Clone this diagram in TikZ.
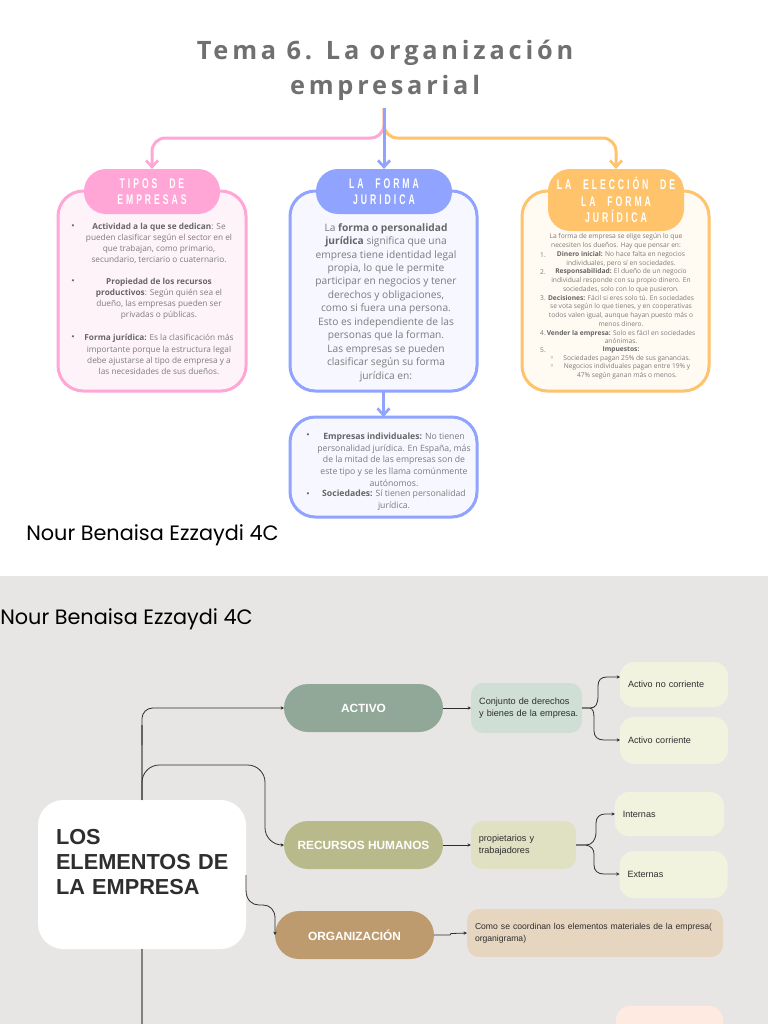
\documentclass[tikz,border=0pt]{standalone}
\usepackage{fontspec}
\setmainfont{Open Sans}
\newfontfamily\titlef[LetterSpace=15]{Open Sans}
\newfontfamily\headf[LetterSpace=21,FakeStretch=0.62,WordSpace=2.2]{Liberation Sans}
\newfontfamily\signf{Poppins}
\newfontfamily\lowf{Liberation Sans}
\newfontfamily\listf{Open Sans}
\newfontfamily\symf{DejaVu Sans}
\usetikzlibrary{arrows.meta}
\definecolor{pinkc}{HTML}{FFA6D6}\definecolor{pinkf}{HTML}{FFF3FA}
\definecolor{bluec}{HTML}{8FA3FF}\definecolor{bluef}{HTML}{F6F7FF}
\definecolor{orc}{HTML}{FFC36B}\definecolor{orf}{HTML}{FFFAF2}
\definecolor{bgc}{HTML}{E8E6E4}\definecolor{gtxt}{HTML}{7C7C7C}\definecolor{gbold}{HTML}{666666}
\definecolor{dark}{HTML}{2E2E2E}
\definecolor{gact}{HTML}{91A898}\definecolor{grec}{HTML}{B9BA8B}\definecolor{gorg}{HTML}{BE9B6F}
\definecolor{dact}{HTML}{CFDFD6}\definecolor{drec}{HTML}{E0E1C3}\definecolor{dorg}{HTML}{E6D5BF}
\definecolor{leaf}{HTML}{F2F3DF}\definecolor{leafp}{HTML}{FFEAE2}
\newcommand{\rbx}[7][]{\node[rbase,#1,minimum width={(#4-#2)*0.75pt},minimum height={(#5-#3)*0.75pt}] (#6) at ({(#2+#4)/2},{(#3+#5)/2}) {#7};}
\newcommand{\bl}[1]{\textbf{\color{gbold}#1}}
\newcommand{\ov}[1]{\makebox[0pt][l]{#1}}
\tikzset{
 x=0.75pt,y=-0.75pt,
 rbase/.style={inner sep=0pt,outer sep=0pt,align=center},
 card/.style={draw,line width=2.25pt,rounded corners=19pt},
 pill/.style={rounded corners=16.5pt,text=white,font=\headf\bfseries\fontsize{10.5}{12.3}\selectfont},
 green/.style={rounded corners=18pt,text=white,font=\lowf\bfseries\fontsize{8.9}{11}\selectfont},
 descr/.style={rounded corners=9pt,text=dark,font=\lowf\fontsize{6.85}{9}\selectfont,align=left,inner xsep=6pt},
 leafb/.style={fill=leaf,rounded corners=10.5pt,text=dark,font=\lowf\fontsize{6.8}{9}\selectfont,align=left,inner xsep=6pt},
 body/.style={inner sep=0pt,outer sep=0pt,align=center,text=gtxt},
 ltxt/.style={body,font=\listf\fontsize{6.2}{8.4}\selectfont},
 mtxt/.style={body,font=\listf\fontsize{7.65}{10.1}\selectfont},
 rtxt/.style={body,font=\listf\fontsize{5}{6.5}\selectfont},
 btxt/.style={body,font=\listf\fontsize{6.5}{8.75}\selectfont},
 dot/.style={body,text=gbold,font=\symf\fontsize{5.5}{6}\selectfont},
 conn/.style={line width=2.25pt,rounded corners=10pt,-{Straight Barb[length=5pt,width=9pt,line width=2pt]}},
 lk/.style={draw=dark,line width=0.6pt,-{Stealth[length=2.5pt,width=2.5pt]}},
 lkg/.style={draw=black!50,line width=0.9pt},
 sign/.style={inner sep=0pt,anchor=west,font=\signf\fontsize{15.6}{18}\selectfont,text=black},
}
\begin{document}
\begin{tikzpicture}
\useasboundingbox (0,0) rectangle (768,1024);
\begin{scope}
\clip (0,0) rectangle (768,1024);
\fill[white] (0,0) rectangle (768,1024);
\fill[bgc] (0,576) rectangle (768,1024);

\node[inner sep=0pt,align=center,text=black!56,font=\titlef\bfseries\fontsize{19}{26.2}\selectfont] (title) at (385,70) {Tema 6. La organización\\empresarial};
\coordinate (root) at (384,108);

% cards
\rbx[card,draw=pinkc,fill=pinkf]{58}{191}{246}{391}{cleft}{}
\rbx[card,draw=bluec,fill=bluef]{290}{191}{477}{391}{cmid}{}
\rbx[card,draw=orc,fill=orf]{522}{191}{709}{391}{cright}{}
\rbx[card,draw=bluec,fill=bluef]{290}{417}{477}{517}{clow}{}
\rbx[pill,fill=pinkc]{84}{169}{220}{214}{hleft}{TIPOS DE\\EMPRESAS}
\rbx[pill,fill=bluec]{316}{169}{452}{214}{hmid}{LA FORMA\\JURIDICA}
\rbx[pill,fill=orc]{548}{169}{684}{231}{hright}{LA ELECCIÓN DE\\LA FORMA\\JURÍDICA}

% top connectors
\coordinate (pl) at (hleft.north |- 0,138);
\coordinate (pr) at (hright.north |- 0,138);
\coordinate (pc) at (root |- 0,138);
\draw[conn,pinkc] (root) -- (pc) -- (pl) -- (hleft.north);
\draw[conn,orc] (root) -- (pc) -- (pr) -- (hright.north);
\draw[conn,bluec] (root) -- (hmid.north);
\draw[conn,bluec] (cmid.south) -- (clow.north);

% left text
\node[ltxt] (l0) at (159,243.3) {\bl{Actividad a la que se dedican}: Se\\pueden clasificar según el sector en el\\que trabajan, como primario,\\secundario, terciario o cuaternario.};
\node[ltxt] (l1) at (159,299) {\bl{Propiedad de los recursos}\\\bl{productivos}: Según quién sea el\\dueño, las empresas pueden ser\\privadas o públicas.};
\node[ltxt] (l2) at (159,354.5) {\bl{Forma jurídica:} Es la clasificación más\\importante porque la estructura legal\\debe ajustarse al tipo de empresa y a\\las necesidades de sus dueños.};
\node[dot] (lb0) at (73,226.7) {•};
\node[dot] (lb1) at (73,282) {•};
\node[dot] (lb2) at (73,338) {•};

% middle text
\node[mtxt] (m0) at (386,302.5) {La \bl{forma o personalidad}\\\bl{jurídica} significa que una\\empresa tiene identidad legal\\propia, lo que le permite\\participar en negocios y tener\\derechos y obligaciones,\\como si fuera una persona.\\Esto es independiente de las\\personas que la forman.\\Las empresas se pueden\\clasificar según su forma\\jurídica en:};

% lower text
\node[btxt] (b0) at (394,459.5) {\bl{Empresas individuales:} No tienen\\personalidad jurídica. En España, más\\de la mitad de las empresas son de\\este tipo y se les llama comúnmente\\autónomos.};
\node[btxt] (b1) at (394,500.5) {\bl{Sociedades:} Sí tienen personalidad\\jurídica.};
\node[dot] (bb0) at (308,436) {•};
\node[dot] (bb1) at (308,495) {•};

% right text
\node[rtxt] (r0) at (616,241.5) {La forma de empresa se elige según lo que\\necesiten los dueños. Hay que pensar en:};
\node[rtxt] (r1) at (621,259.3) {\bl{Dinero inicial:} No hace falta en negocios\\individuales, pero sí en sociedades.};
\node[rtxt] (r2) at (621,280.7) {\bl{Responsabilidad:} El dueño de un negocio\\individual responde con su propio dinero. En\\sociedades, solo con lo que pusieron.};
\node[rtxt] (r3) at (621,310.7) {\bl{Decisiones:} Fácil si eres solo tú. En sociedades\\se vota según lo que tienes, y en cooperativas\\todos valen igual, aunque hayan puesto más o\\menos dinero.};
\node[rtxt] (r4) at (621,337) {\bl{Vender la empresa:} Solo es fácil en sociedades\\anónimas.};
\node[rtxt] (r5) at (621,349.7) {\bl{Impuestos:}};
\node[rtxt] (r6) at (627,358.7) {Sociedades pagan 25\% de sus ganancias.};
\node[rtxt] (r7) at (627,371.3) {Negocios individuales pagan entre 19\% y\\47\% según ganan más o menos.};
\node[rtxt] (n1) at (543,255) {1.};
\node[rtxt] (n2) at (543,271.7) {2.};
\node[rtxt] (n3) at (543,297.7) {3.};
\node[rtxt] (n4) at (543,332.7) {4.};
\node[rtxt] (n5) at (543,349.7) {5.};
\node[dot] (o1) at (552,358.7) {◦};
\node[dot] (o2) at (552,367) {◦};

% signatures
\node[sign] (s1) at (26,535) {Nour Benaisa Ezzaydi 4C};
\node[sign] (s2) at (0,619) {Nour Benaisa Ezzaydi 4C};

% lower diagram
\rbx[fill=white,rounded corners=19pt,text=dark,font=\lowf\bfseries\fontsize{16.3}{18.6}\selectfont,align=left,text width=129pt,inner xsep=13.5pt]{38}{800}{246}{949}{main}{\ov{LOS}\\\ov{ELEMENTOS DE}\\\ov{LA EMPRESA}\\\mbox{}}
\rbx[green,fill=gact]{284}{684}{443}{732}{act}{ACTIVO}
\rbx[green,fill=grec]{284}{821}{443}{869}{rec}{RECURSOS HUMANOS}
\rbx[green,fill=gorg]{275}{911}{434}{959}{org}{ORGANIZACIÓN}
\rbx[descr,fill=dact,text width=71pt]{471}{683}{582}{733}{dact1}{\ov{Conjunto de derechos}\\\ov{y bienes de la empresa.}}
\rbx[descr,fill=drec,text width=67pt]{471}{821}{576}{869}{drec1}{\ov{propietarios y}\\\ov{trabajadores}}
\rbx[descr,fill=dorg,text width=180pt]{467}{909}{723}{957}{dorg1}{\fontsize{6.45}{9}\selectfont\ov{Como se coordinan los elementos materiales de la empresa(}\\\ov{organigrama)}}
\rbx[leafb,text width=69pt]{620}{662}{728}{707}{l1b}{\ov{Activo no corriente}}
\rbx[leafb,text width=69pt]{620}{717}{728}{764}{l2b}{\ov{Activo corriente}}
\rbx[leafb,text width=70pt]{616}{792}{723}{836}{l3b}{\ov{Internas}}
\rbx[leafb,text width=69pt]{620}{851}{727}{898}{l4b}{\ov{Externas}}
\rbx[fill=leafp,rounded corners=10.5pt]{616}{1006}{723}{1060}{l5b}{}

% connectors of lower diagram
\coordinate (t1) at (142,708);
\coordinate (t2a) at (142,765);
\coordinate (t2b) at (265,765);
\coordinate (t2c) at (265,845);
\coordinate (m1) at (142,800);
\coordinate (m2) at (142,949);
\coordinate (m3) at (142,1024);
\coordinate (o0) at (246,875);
\draw[lkg] (m1) -- (142,725);
\draw[lkg] (m2) -- (m3);
\draw[lk,rounded corners=8pt] (142,745) -- (t1) -- (act.west);
\draw[lk,rounded corners=13pt] (142,800) -- (t2a) -- (t2b) -- (t2c) -- (rec.west);
\draw[lk] (o0) -- (246,890) .. controls (246,900) and (252,905) .. (259,905) -- (263,905) .. controls (270,905) and (275,910) .. (275,918) -- (org.west);
\draw[lk] (act.east) -- (dact1.west);
\draw[lk] (rec.east) -- (drec1.west);
\draw[lk] (org.east) -- (450,935) -- (451,933.5) -- (dorg1.west |- 0,933);
\draw[lk] (dact1.east) -- (590,708) .. controls (596,708) and (598,704) .. (598,695) -- (598,686) .. controls (598,680) and (601,677) .. (607,677) -- (l1b.west |- 0,677);
\draw[lk] (dact1.east) -- (590,708) .. controls (593,709) and (594,712) .. (594,718) -- (594,731) .. controls (594,737) and (598,740) .. (604,740) -- (l2b.west |- 0,740);
\draw[lk] (drec1.east) -- (586,845) .. controls (592,845) and (596,840) .. (596,832) -- (596,823) .. controls (596,817) and (600,814) .. (605,814) -- (l3b.west);
\draw[lk] (drec1.east) -- (586,845) .. controls (591,846) and (594,849) .. (594,854) -- (594,865) .. controls (594,871) and (598,874) .. (604,874) -- (l4b.west |- 0,874);
\end{scope}
\end{tikzpicture}
\end{document}
